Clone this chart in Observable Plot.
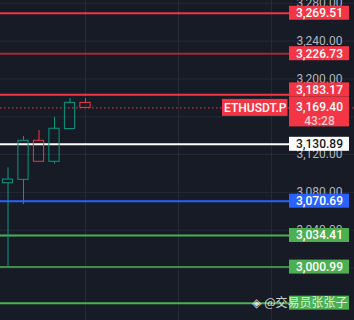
<!DOCTYPE html>
<html>
<head>
<meta charset="utf-8">
<script src="https://cdn.jsdelivr.net/npm/d3@7"></script>
<script src="https://cdn.jsdelivr.net/npm/@observablehq/plot@0.6"></script>
<style>
  html, body { margin: 0; padding: 0; background: #171b26; overflow: hidden; }
  #chart svg { display: block; }
</style>
</head>
<body>
<div id="chart"></div>
<script>
// ---- data ----
const candleIndex = [0, 1, 2, 3, 4, 5];
const candleOpen  = [3089.7, 3093.3, 3134.6, 3112.4, 3147.0, 3174.7];
const candleHigh  = [3106.0, 3139.1, 3145.5, 3159.2, 3179.3, 3179.3];
const candleLow   = [3000.9, 3067.2, 3112.4, 3109.8, 3146.9, 3169.4];
const candleClose = [3093.6, 3134.6, 3112.4, 3147.3, 3174.7, 3169.4];

const levelValues = [3269.51, 3226.73, 3183.17, 3130.89, 3070.69, 3034.41, 3000.99, 2962.85];
const levelShowText = [true, true, true, true, true, true, true, false];
const levelBoxColors = ["#f23645", "#f23645", "#f23645", "#ffffff", "#2962ff", "#4caf50", "#4caf50", "#4caf50"];
const levelLineColors = ["#f23645", "#a3293b", "#f23645", "#ffffff", "#2962ff", "#4caf50", "#3d8f41", "#4caf50"];
const levelTextColors = ["#ffffff", "#ffffff", "#ffffff", "#131722", "#ffffff", "#ffffff", "#ffffff", "#ffffff"];

const tickValues = [3280, 3240, 3200, 3160, 3120, 3080, 3040, 3000];
const verticalGridIndex = [5, 11, 17];

const symbol = "ETHUSDT.P";
const lastPrice = 3169.40;
const countdown = "43:28";
const watermark = "◈ @交易员张张子";

// ---- layout ----
const W = 354, H = 320;
const slotPx = 15.5, firstCenterPx = 7.5;
const xDomain = [-firstCenterPx / slotPx, (W - firstCenterPx) / slotPx];
const yDomain = [2944.5, 3283.0];
const ppu = H / (yDomain[1] - yDomain[0]);
const xAt = px => (px - firstCenterPx) / slotPx;       // pixel -> x data
const yPx = v => (yDomain[1] - v) * ppu;                // value -> pixel
const yAt = px => yDomain[1] - px / ppu;                // pixel -> value

const boxX0 = xAt(289), boxX1 = xAt(349), boxXc = xAt(319);
const symX0 = xAt(222), symX1 = xAt(287.5), symXc = xAt(254.75);

const candles = candleIndex.map((i, k) => ({
  i, open: candleOpen[k], high: candleHigh[k], low: candleLow[k], close: candleClose[k],
  color: candleClose[k] >= candleOpen[k] ? "#089981" : "#f23645"
}));

// current price box (two rows)
const curLine = yPx(lastPrice);
const curTop = curLine - 11, curBot = curLine + 19;

// level boxes with simple collision avoidance against the current price box
const levels = levelValues.map((v, k) => {
  const c = yPx(v);
  let top = c - 7, bot = c + 7;
  if (bot > curTop && top < curBot) {
    if (c < curLine) { const s = bot - curTop; top -= s; bot -= s; }
    else { const s = curBot - top; top += s; bot += s; }
  }
  return {
    v, show: levelShowText[k], box: levelBoxColors[k], line: levelLineColors[k],
    tc: levelTextColors[k], y1: yAt(top), y2: yAt(bot), yc: yAt((top + bot) / 2),
    top, bot, label: d3.format(",.2f")(v)
  };
});

// tick labels entirely hidden behind a label box are not drawn
const boxSpans = levels.map(d => [d.top, d.bot]).concat([[curTop, curBot]]);
const visibleTicks = tickValues.filter(t => {
  const c = yPx(t);
  return !boxSpans.some(([a, b]) => c - 4 >= a && c + 4 <= b);
});

const fmt = d3.format(",.2f");

const chart = Plot.plot({
  width: W, height: H, margin: 0,
  x: { domain: xDomain, axis: null },
  y: { domain: yDomain, axis: null },
  style: { background: "#171b26", fontFamily: "Roboto, 'Liberation Sans', sans-serif" },
  marks: [
    Plot.ruleY(tickValues, { stroke: "#262a35", strokeWidth: 1 }),
    Plot.ruleX(verticalGridIndex, { stroke: "#262a35", strokeWidth: 1 }),
    Plot.text(visibleTicks, { y: d => d, x: boxXc, text: d => fmt(d), fill: "#b2b5be", fontSize: 12 }),
    // dotted current price line
    Plot.ruleY([lastPrice], { stroke: "#f23645", strokeWidth: 1, strokeDasharray: "1.5,2.5" }),
    // level lines
    Plot.ruleY(levels, { y: "v", x1: xDomain[0], x2: boxX0, stroke: "line", strokeWidth: 2 }),
    // candles
    Plot.ruleX(candles, { x: "i", y1: "high", y2: d => Math.max(d.open, d.close), stroke: "color", strokeWidth: 1 }),
    Plot.ruleX(candles, { x: "i", y1: d => Math.min(d.open, d.close), y2: "low", stroke: "color", strokeWidth: 1 }),
    Plot.rect(candles, { x1: d => d.i - 0.33, x2: d => d.i + 0.33, y1: "open", y2: "close", fill: "none", stroke: "color", strokeWidth: 1 }),
    // level label boxes
    Plot.rect(levels, { x1: boxX0, x2: boxX1, y1: "y1", y2: "y2", fill: "box" }),
    Plot.text(levels.filter(d => d.show), { x: boxXc, y: "yc", text: "label", fill: "tc", fontSize: 12, fontWeight: 500 }),
    // current price box
    Plot.rect([lastPrice], { x1: boxX0, x2: boxX1, y1: yAt(curTop), y2: yAt(curBot), fill: "#f23645" }),
    Plot.text([lastPrice], { x: boxXc, y: yAt(curLine - 1), text: d => fmt(d), fill: "#ffffff", fontSize: 12, fontWeight: 500 }),
    Plot.text([countdown], { x: boxXc, y: yAt(curLine + 13), text: d => d, fill: "#fbc9cd", fontSize: 12, fontWeight: 500 }),
    // symbol box
    Plot.rect([symbol], { x1: symX0, x2: symX1, y1: yAt(curLine - 8.5), y2: yAt(curLine + 8.5), fill: "#f23645" }),
    Plot.text([symbol], { x: symXc, y: lastPrice, text: d => d, fill: "#ffffff", fontSize: 12, fontWeight: 500 }),
    // watermark
    Plot.text([watermark], { x: xAt(347), y: yAt(303), text: d => d, textAnchor: "end", fill: "#ffffff", fillOpacity: 0.8, fontSize: 12, fontFamily: "'Noto Sans CJK SC', sans-serif" })
  ]
});
document.getElementById("chart").appendChild(chart);
</script>
</body>
</html>
